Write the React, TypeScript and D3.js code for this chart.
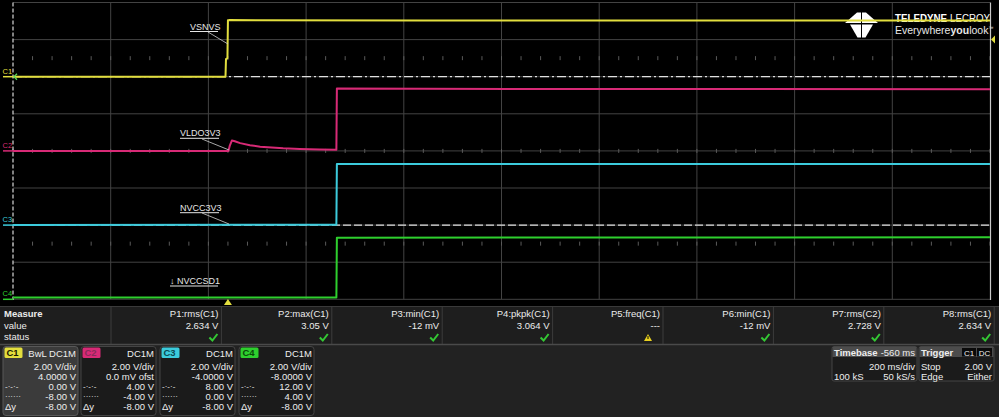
import React from "react";
import * as d3 from "d3";

// ---- data ----
const timeDomain: [number, number] = [-440, 1560]; // ms relative to trigger
const channelNames = ["C1", "C2", "C3", "C4"];
const channelColors = ["#e2de3e", "#d82a76", "#3ccbdc", "#2ecf2e"];
const voltsPerDiv = [2, 2, 2, 2];
const channelOffsets = [4, 0, -4, -8];

const c1Trace: [number, number][] = [
  [-440, 0], [-5, 0], [-4, 0.95], [-1, 1.0], [0, 3.04], [2, 3.05], [400, 3.03], [1560, 3.03],
];
const c2Trace: [number, number][] = [
  [-440, 0], [1, 0], [4, 0.3], [8, 0.56], [14, 0.52], [25, 0.42], [45, 0.3], [66, 0.23],
  [113, 0.14], [147, 0.1], [188, 0.07], [222, 0.06], [223, 3.36], [600, 3.34], [1560, 3.33],
];
const c3Trace: [number, number][] = [
  [-440, 0], [222, 0.02], [223, 3.3], [1560, 3.3],
];
const c4Trace: [number, number][] = [
  [-440, 0.1], [222, 0.1], [223, 3.32], [1560, 3.34],
];
const traces = [c1Trace, c2Trace, c3Trace, c4Trace];

const measureNames = ["P1:rms(C1)", "P2:max(C1)", "P3:min(C1)", "P4:pkpk(C1)", "P5:freq(C1)", "P6:min(C1)", "P7:rms(C2)", "P8:rms(C1)"];
const measureValues = ["2.634 V", "3.05 V", "-12 mV", "3.064 V", "---", "-12 mV", "2.728 V", "2.634 V"];
const measureStatus = ["ok", "ok", "ok", "ok", "warn", "ok", "ok", "ok"];

const chCoupling = ["BwL DC1M", "DC1M", "DC1M", "DC1M"];
const chVdiv = ["2.00 V/div", "2.00 V/div", "2.00 V/div", "2.00 V/div"];
const chOffsetText = ["4.0000 V", "0.0 mV ofst", "-4.0000 V", "-8.0000 V"];
const chCursor1 = ["0.00 V", "4.00 V", "8.00 V", "12.00 V"];
const chCursor2 = ["-8.00 V", "-4.00 V", "0.00 V", "4.00 V"];
const chDelta = ["-8.00 V", "-8.00 V", "-8.00 V", "-8.00 V"];

const timebaseText = ["Timebase", "-560 ms", "200 ms/div", "100 kS", "50 kS/s"];
const triggerText = ["Trigger", "C1", "DC", "Stop", "2.00 V", "Edge", "Either"];

const FONT = "'Liberation Sans', Arial, sans-serif";

export default function App() {
  const W = 999, H = 417;
  const x = d3.scaleLinear().domain(timeDomain).range([13, 990]);
  const gridX = d3.scaleLinear().domain([0, 10]).range([13, 990]);
  const gridY = d3.scaleLinear().domain([-4, 4]).range([299.3, 2.5]);
  const chY = (ch: number, v: number) => gridY((v + channelOffsets[ch]) / voltsPerDiv[ch]);

  const lineFor = (ch: number) =>
    d3.line<[number, number]>().x((d) => x(d[0])).y((d) => chY(ch, d[1]))(traces[ch]) || "";

  const vLines = d3.range(1, 10);
  const hLines = d3.range(-4, 5);
  const minorX = d3.range(0, 50.001, 1);
  const tickRows = [2.5, 0, -2.5];

  const colRight = (i: number) => 111 + (i + 1) * 110.4;
  const boxX = [3, 81, 160, 239];
  const boxW = 75;
  const tagText = ["#1a1a00", "#8a2a5a", "#0b4a55", "#0a4a0a"];

  return (
    <svg width={W} height={H} style={{ position: "absolute", left: 0, top: 0, display: "block" }} fontFamily={FONT}>
      <rect x={0} y={0} width={W} height={H} fill="#000" />
      {/* grid */}
      {vLines.map((i) => (
        <line key={"v" + i} x1={gridX(i)} x2={gridX(i)} y1={2.5} y2={299.3} stroke="#434343" strokeWidth={1} />
      ))}
      {hLines.map((j) => (
        <line key={"h" + j} x1={13} x2={990} y1={gridY(j)} y2={gridY(j)} stroke="#434343" strokeWidth={1} />
      ))}
      {tickRows.map((r) =>
        minorX.map((m) => (
          <line key={"t" + r + "_" + m} x1={gridX(m / 5)} x2={gridX(m / 5)} y1={gridY(r) - 2} y2={gridY(r) + 2} stroke="#5a5a5a" strokeWidth={1} />
        ))
      )}
      <line x1={13} x2={13} y1={2.5} y2={300} stroke="#d8d8d8" strokeWidth={1.2} strokeDasharray="4,2" />
      <line x1={990.5} x2={990.5} y1={2.5} y2={300} stroke="#c8c8c8" strokeWidth={1.2} />
      {/* cursors */}
      <line x1={13} x2={990} y1={gridY(2)} y2={gridY(2)} stroke="#e0e0e0" strokeWidth={1.3} strokeDasharray="9,3,2,3" />
      <line x1={13} x2={990} y1={gridY(-2)} y2={gridY(-2)} stroke="#e0e0e0" strokeWidth={1.3} strokeDasharray="8,3" />

      {/* logo */}
      <g fill="#ffffff">
        <polygon points="845,23 857,12.5 861,12.5 861,23" />
        <polygon points="878,23 866,12.5 862,12.5 862,23" />
        <polygon points="850,24.5 861,24.5 861,37.5 857.5,37.5" />
        <polygon points="873,24.5 862,24.5 862,37.5 865.5,37.5" />
        <text x={895} y={22} fontSize={10.5} fontWeight="bold" textLength={52} lengthAdjust="spacingAndGlyphs">TELEDYNE</text>
        <text x={950} y={22} fontSize={10.5} textLength={40} lengthAdjust="spacingAndGlyphs">LECROY</text>
        <text x={895} y={33.5} fontSize={10.5} fill="#e8e8e8">Everywhere<tspan fontWeight="bold">you</tspan>look<tspan fontSize={5} dy={-4}>™</tspan></text>
      </g>

      {/* traces */}
      {[3, 2, 1, 0].map((ch) => (
        <path key={"tr" + ch} d={lineFor(ch)} fill="none" stroke={channelColors[ch]} strokeWidth={2} strokeLinejoin="round" />
      ))}

      {/* channel markers left */}
      {channelNames.map((n, ch) => (
        <g key={"cm" + n}>
          <text x={2.5} y={chY(ch, 0) - 3} fontSize={7.5} fill={channelColors[ch]}>{n}</text>
          <line x1={3} x2={13} y1={chY(ch, 0)} y2={chY(ch, 0)} stroke={channelColors[ch]} strokeWidth={1.5} />
        </g>
      ))}
      <path d={`M17,${chY(0, 0) - 3} L14,${chY(0, 0)} L17,${chY(0, 0) + 3}`} fill="none" stroke="#5cd65c" strokeWidth={1.3} />

      {/* trigger markers */}
      <polygon points={`${x(0) - 4},305 ${x(0) + 4},305 ${x(0)},299`} fill="#e2de3e" />
      <polygon points={`${995},${chY(0, 2) - 4} ${995},${chY(0, 2) + 4} ${991},${chY(0, 2)}`} fill="#e2de3e" />

      {/* trace annotations */}
      <g fill="#e6e6e6" stroke="none" fontSize={9}>
        <text x={190} y={29.5}>VSNVS</text>
        <line x1={190} x2={218} y1={31.5} y2={31.5} stroke="#e6e6e6" strokeWidth={1} />
        <line x1={208} x2={x(0)} y1={32} y2={44} stroke="#d0d0d0" strokeWidth={0.8} />

        <text x={180} y={136}>VLDO3V3</text>
        <line x1={180} x2={219} y1={138.3} y2={138.3} stroke="#e6e6e6" strokeWidth={1} />
        <line x1={202} x2={229} y1={139} y2={150} stroke="#d0d0d0" strokeWidth={0.8} />

        <text x={180} y={210.5}>NVCC3V3</text>
        <line x1={180} x2={219} y1={212.7} y2={212.7} stroke="#e6e6e6" strokeWidth={1} />
        <line x1={202} x2={229} y1={213} y2={224} stroke="#d0d0d0" strokeWidth={0.8} />

        <text x={170} y={283.5}>↓ NVCCSD1</text>
        <line x1={170} x2={218} y1={286} y2={286} stroke="#e6e6e6" strokeWidth={1} />
      </g>

      {/* measure panel */}
      <rect x={0} y={306} width={W} height={38} fill="#1e1e1e" />
      <line x1={0} x2={W} y1={306.5} y2={306.5} stroke="#3a3a3a" />
      <line x1={111} x2={111} y1={306} y2={344} stroke="#3c3c3c" />
      {measureNames.map((n, i) => (
        <line key={"ms" + i} x1={colRight(i)} x2={colRight(i)} y1={306} y2={344} stroke="#3c3c3c" />
      ))}
      <g fontSize={9.5} fill="#ececec">
        <text x={4} y={316.5} fontWeight="bold">Measure</text>
        <text x={4} y={328.5}>value</text>
        <text x={4} y={340}>status</text>
        {measureNames.map((n, i) => (
          <g key={"mt" + i}>
            <text x={colRight(i) - 3} y={316.5} textAnchor="end">{n}</text>
            <text x={colRight(i) - 3} y={328.5} textAnchor="end">{measureValues[i]}</text>
            {measureStatus[i] === "ok" ? (
              <path d={`M${colRight(i) - 12},337.5 L${colRight(i) - 9},340.5 L${colRight(i) - 4},334`} fill="none" stroke="#34c834" strokeWidth={2} />
            ) : (
              <g>
                <polygon points={`${colRight(i) - 19},341 ${colRight(i) - 11},341 ${colRight(i) - 15},334`} fill="#e8d020" />
                <line x1={colRight(i) - 15} x2={colRight(i) - 15} y1={336} y2={339} stroke="#000" strokeWidth={1} />
              </g>
            )}
          </g>
        ))}
      </g>

      {/* bottom panel */}
      <rect x={0} y={344} width={W} height={73} fill="#222222" />
      <line x1={0} x2={W} y1={344.5} y2={344.5} stroke="#4a4a4a" strokeWidth={1.5} />
      {channelNames.map((n, ch) => {
        const bx = boxX[ch];
        const r = bx + boxW - 2;
        return (
          <g key={"box" + n} fontSize={9.5} fill="#eeeeee">
            <rect x={bx} y={346.5} width={boxW} height={69} rx={3} fill={ch === 0 ? "#3b3b3b" : "#1b1b1b"} stroke={ch === 0 ? "#585858" : "#444"} />
            <rect x={bx + 1.5} y={347.5} width={18} height={10.5} rx={1.5} fill={channelColors[ch]} />
            <text x={bx + 3.5} y={356} fontSize={9.5} fontWeight="bold" fill={tagText[ch]}>{n}</text>
            <text x={r} y={356.5} textAnchor="end">{chCoupling[ch]}</text>
            <text x={r} y={370} textAnchor="end">{chVdiv[ch]}</text>
            <text x={r} y={380} textAnchor="end">{chOffsetText[ch]}</text>
            <text x={bx + 2} y={389} fontSize={8}>-·-·-</text>
            <text x={r} y={390} textAnchor="end">{chCursor1[ch]}</text>
            <text x={bx + 2} y={399} fontSize={8}>······</text>
            <text x={r} y={400} textAnchor="end">{chCursor2[ch]}</text>
            <text x={bx + 2} y={410}>Δy</text>
            <text x={r} y={410} textAnchor="end">{chDelta[ch]}</text>
          </g>
        );
      })}

      {/* timebase */}
      <g fontSize={9.5} fill="#eeeeee">
        <rect x={832} y={346.5} width={85} height={34.5} rx={2} fill="#1b1b1b" stroke="#444" />
        <rect x={832.5} y={347} width={84} height={10} fill="#4c4c4c" />
        <text x={834} y={355.5} fontWeight="bold">{timebaseText[0]}</text>
        <text x={915} y={355.5} textAnchor="end">{timebaseText[1]}</text>
        <text x={915} y={369.5} textAnchor="end">{timebaseText[2]}</text>
        <text x={834} y={379.5}>{timebaseText[3]}</text>
        <text x={915} y={379.5} textAnchor="end">{timebaseText[4]}</text>

        <rect x={919} y={346.5} width={75} height={34.5} rx={2} fill="#1b1b1b" stroke="#444" />
        <rect x={919.5} y={347} width={74} height={10} fill="#4c4c4c" />
        <text x={921} y={355.5} fontWeight="bold">{triggerText[0]}</text>
        <rect x={962} y={348} width={14} height={8.5} fill="#0a0a0a" />
        <rect x={977} y={348} width={15} height={8.5} fill="#0a0a0a" />
        <text x={969} y={355.5} fontSize={8} textAnchor="middle">{triggerText[1]}</text>
        <text x={984.5} y={355.5} fontSize={8} textAnchor="middle">{triggerText[2]}</text>
        <text x={921} y={369.5}>{triggerText[3]}</text>
        <text x={992} y={369.5} textAnchor="end">{triggerText[4]}</text>
        <text x={921} y={379.5}>{triggerText[5]}</text>
        <text x={992} y={379.5} textAnchor="end">{triggerText[6]}</text>
      </g>
    </svg>
  );
}
